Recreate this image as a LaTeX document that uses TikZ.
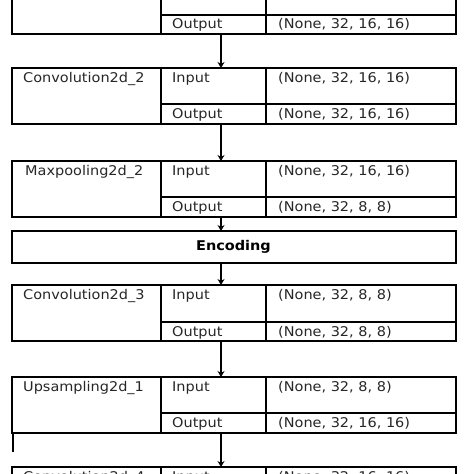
\documentclass[tikz,border=0pt]{standalone}
\usepackage{fontspec}
\setmainfont{DejaVu Sans}[FakeStretch=1.08]
\usetikzlibrary{arrows.meta}
\begin{document}
\begin{tikzpicture}[x=1pt,y=-1pt,
  blk/.style={draw, line width=1.6pt, rectangle, anchor=north west, minimum width=444pt, inner sep=0pt, outer sep=0pt},
  cell/.style={line width=1.6pt},
  lbl/.style={anchor=base west, inner sep=0pt, text=black!85, font=\fontsize{13.4}{15}\selectfont},
  conn/.style={line width=1.4pt, -{Stealth[length=6pt,width=7pt]}}
]
\useasboundingbox (0,0) rectangle (474,474);
\clip (0,0) rectangle (474,474);
\coordinate (ax) at (221,0);
\coordinate (c1) at (161,0);

% block 0 (cut at top)
\node[blk, minimum height=56pt] (b0) at (12,-22) {};
\draw[cell] (c1 |- b0.north) -- (c1 |- b0.south);
\draw[cell] (266,-22) -- (266,34);
\draw[cell] (161,15) -- (456,15);
\node[lbl] (b0o) at (172,28.5) {Output};
\node[lbl] (b0v) at (278,28.5) {(None, 32, 16, 16)};

% block 1
\node[blk, minimum height=56pt] (b1) at (12,68) {};
\draw[cell] (c1 |- b1.north) -- (c1 |- b1.south);
\draw[cell] (266,68) -- (266,124);
\draw[cell] (161,104) -- (456,104);
\node[lbl] (b1n) at (23,82.5) {Convolution2d\_2};
\node[lbl] (b1i) at (172,82.5) {Input};
\node[lbl] (b1iv) at (278,82.5) {(None, 32, 16, 16)};
\node[lbl] (b1o) at (172,118.5) {Output};
\node[lbl] (b1ov) at (278,118.5) {(None, 32, 16, 16)};

% block 2
\node[blk, minimum height=56pt] (b2) at (12,161) {};
\draw[cell] (c1 |- b2.north) -- (c1 |- b2.south);
\draw[cell] (266,161) -- (266,217);
\draw[cell] (161,197) -- (456,197);
\node[lbl] (b2n) at (25,175) {Maxpooling2d\_2};
\node[lbl] (b2i) at (172,175) {Input};
\node[lbl] (b2iv) at (278,175) {(None, 32, 16, 16)};
\node[lbl] (b2o) at (172,211.5) {Output};
\node[lbl] (b2ov) at (278,211.5) {(None, 32, 8, 8)};

% encoding
\node[blk, minimum height=32pt] (enc) at (12,231) {};
\node[font=\fontsize{13.4}{15}\selectfont\bfseries, inner sep=0pt] (enct) at (233.5,247) {Encoding};

% block 3
\node[blk, minimum height=56pt] (b3) at (12,285) {};
\draw[cell] (c1 |- b3.north) -- (c1 |- b3.south);
\draw[cell] (266,285) -- (266,341);
\draw[cell] (161,322) -- (456,322);
\node[lbl] (b3n) at (23,299.5) {Convolution2d\_3};
\node[lbl] (b3i) at (172,299.5) {Input};
\node[lbl] (b3iv) at (278,299.5) {(None, 32, 8, 8)};
\node[lbl] (b3o) at (172,336) {Output};
\node[lbl] (b3ov) at (278,336) {(None, 32, 8, 8)};

% block 4
\node[blk, minimum height=56pt] (b4) at (12,377) {};
\draw[cell] (c1 |- b4.north) -- (c1 |- b4.south);
\draw[cell] (266,377) -- (266,433);
\draw[cell] (161,413) -- (456,413);
\node[lbl] (b4n) at (23,391.5) {Upsampling2d\_1};
\node[lbl] (b4i) at (172,391.5) {Input};
\node[lbl] (b4iv) at (278,391.5) {(None, 32, 8, 8)};
\node[lbl] (b4o) at (172,427.5) {Output};
\node[lbl] (b4ov) at (278,427.5) {(None, 32, 16, 16)};
\coordinate (st1) at (13,433);
\coordinate (st2) at (13,452);
\draw[cell] (st1) -- (st2);

% block 5 (cut at bottom)
\node[blk, minimum height=56pt] (b5) at (12,467) {};
\draw[cell] (c1 |- b5.north) -- (c1 |- b5.south);
\draw[cell] (266,467) -- (266,523);
\node[lbl] (b5n) at (23,481.5) {Convolution2d\_4};
\node[lbl] (b5i) at (172,481.5) {Input};
\node[lbl] (b5iv) at (278,481.5) {(None, 32, 16, 16)};

% connectors
\draw[conn] (b0.south -| ax) -- (b1.north -| ax);
\draw[conn] (b1.south -| ax) -- (b2.north -| ax);
\draw[conn] (b2.south -| ax) -- (enc.north -| ax);
\draw[conn] (enc.south -| ax) -- (b3.north -| ax);
\draw[conn] (b3.south -| ax) -- (b4.north -| ax);
\draw[conn] (b4.south -| ax) -- (b5.north -| ax);
\end{tikzpicture}
\end{document}
